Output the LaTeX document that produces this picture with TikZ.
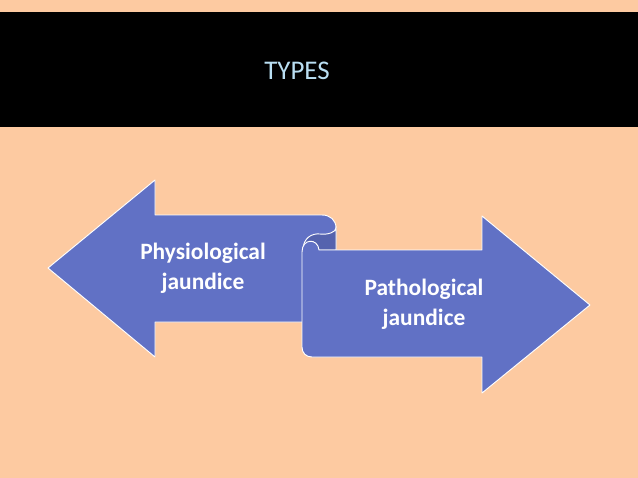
\documentclass[tikz,border=0pt]{standalone}
\usepackage{fontspec}
\setmainfont{Carlito}
\usetikzlibrary{positioning}
\definecolor{peach}{HTML}{FDCAA1}
\definecolor{arrowblue}{HTML}{6171C5}
\definecolor{curlblue}{HTML}{5563AE}
\definecolor{titleblue}{HTML}{B9DEF2}
\tikzset{
  arrowshape/.style={fill=arrowblue, draw=white, line width=0.8pt, line join=round},
  label/.style={text=white, font=\fontsize{20}{26}\selectfont\bfseries, align=center}
}
\begin{document}
\begin{tikzpicture}[x=0.03cm, y=-0.03cm]
% Background
\fill[peach] (0,0) rectangle (638,478);
\fill[black] (0,12) rectangle (638,127);
\node[text=titleblue, font=\fontsize{23}{28}\selectfont] (title) at (297,71) {TYPES};

% Left arrow
\draw[arrowshape] (48,268) -- (155,180) -- (155,215) -- (322,215)
  .. controls (330,215) and (336,220) .. (336,228) -- (336,322)
  -- (155,322) -- (155,357) -- cycle;
% Curl
\draw[fill=curlblue, draw=white, line width=0.8pt]
  (303,250) .. controls (303,238) and (312,233) .. (320,234)
  .. controls (328,235) and (336,232) .. (336,228) -- (336,250) -- cycle;
% Right arrow
\draw[arrowshape] (590,305) -- (482,393) -- (482,357) -- (312,357)
  .. controls (306,357) and (302,353) .. (302,347) -- (302,252)
  .. controls (302,238) and (318,238) .. (319,250) -- (482,250) -- (482,216) -- cycle;

% Labels
\node[label] (physio) at (203,268) {Physiological\\jaundice};
\node[label] (patho) at (424,304) {Pathological\\jaundice};
\end{tikzpicture}
\end{document}
